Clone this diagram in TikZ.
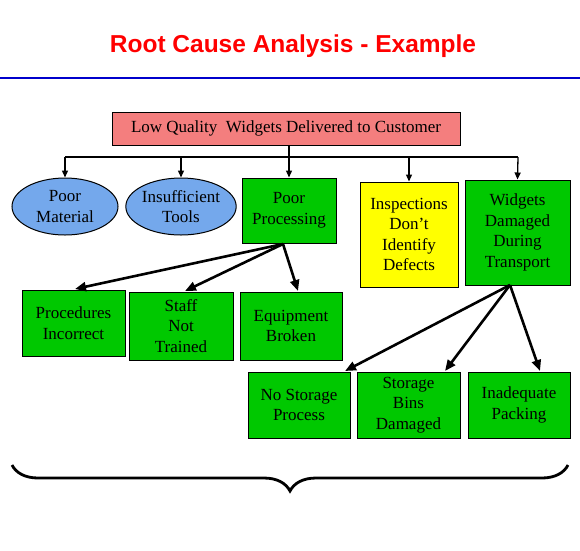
\documentclass[tikz,border=0pt]{standalone}
\usepackage{fontspec}
\setmainfont{Liberation Serif}
\newfontfamily\ttl{Liberation Sans}
\usetikzlibrary{shapes.geometric,arrows.meta,decorations.pathreplacing}
\definecolor{gr}{HTML}{00C800}
\definecolor{bl}{HTML}{74A8EC}
\definecolor{sal}{HTML}{F47E7E}
\definecolor{yl}{HTML}{FFFF00}
\begin{document}
\begin{tikzpicture}[x=1pt,y=-1pt,
 box/.style={draw=black,line width=1pt,align=center,font=\fontsize{17}{20.5}\selectfont,inner sep=0pt},
 g/.style={box,fill=gr},
 ar/.style={-{Triangle[length=11pt,width=9pt]},line width=2.6pt},
 sa/.style={-{Triangle[length=7pt,width=6pt]},line width=1.3pt}]
\useasboundingbox (0,0) rectangle (580,550);
\node[font=\ttl\bfseries\fontsize{24.5}{28}\selectfont,text=red] (t) at (293,46) {Root Cause Analysis - Example};
\draw[line width=2.5pt,blue!80!black] (0,78) -- (580,78);
\node[box,fill=sal,minimum width=348pt,minimum height=33pt] (top) at (286,128.5) {Low Quality\ \ Widgets Delivered to Customer};
\node[box,ellipse,fill=bl,minimum width=106pt,minimum height=57pt] (e1) at (65,206.5) {Poor\\Material};
\node[box,ellipse,fill=bl,minimum width=108pt,minimum height=57pt] (e2) at (181,206.5) {Insufficient\\Tools};
\node[g,minimum width=94pt,minimum height=65pt] (pp) at (289,210.5) {Poor\\Processing};
\node[box,fill=yl,minimum width=98pt,minimum height=105pt] (in) at (409,234.5) {Inspections\\Don't\\Identify\\Defects};
\node[g,minimum width=105pt,minimum height=105pt] (wd) at (517.5,232.5) {Widgets\\Damaged\\During\\Transport};
\node[g,minimum width=103pt,minimum height=66pt] (pi) at (73.5,323) {Procedures\\Incorrect};
\node[g,minimum width=104pt,minimum height=68pt] (st) at (181,326) {Staff\\Not\\Trained};
\node[g,minimum width=102pt,minimum height=68pt] (eb) at (291,326) {Equipment\\Broken};
\node[g,minimum width=102pt,minimum height=66pt] (ns) at (299,405) {No Storage\\Process};
\node[g,minimum width=103pt,minimum height=66pt] (sb) at (408.5,405) {Storage\\Bins\\Damaged};
\node[g,minimum width=102pt,minimum height=66pt] (ip) at (519,405) {Inadequate\\Packing};
\coordinate (hl) at (65,157); \coordinate (hr) at (518,157);
\draw[line width=1.3pt] (top.south -| pp) -- (pp |- hl);
\draw[line width=1.3pt] (hl) -- (hr);
\draw[sa] (hl) -- (e1.north);
\draw[sa] (e2 |- hl) -- (e2.north);
\draw[sa] (pp |- hl) -- (pp.north);
\draw[sa] (in |- hl) -- (in.north);
\draw[sa] (hr) -- (wd.north);
\coordinate (pb) at (283,244);
\draw[ar] (pb) -- (75,289);
\draw[ar] (pb) -- (185,291);
\draw[ar] (pb) -- (298,291);
\coordinate (wb) at (510,285);
\draw[ar] (wb) -- (345,371);
\draw[ar] (wb) -- (445,371);
\draw[ar] (wb) -- (540,371);
\coordinate (b1) at (12,465); \coordinate (b2) at (568,465);
\draw[line width=2.8pt,decorate,decoration={brace,mirror,amplitude=26pt,aspect=0.5}] (b1) -- (b2);
\end{tikzpicture}
\end{document}
